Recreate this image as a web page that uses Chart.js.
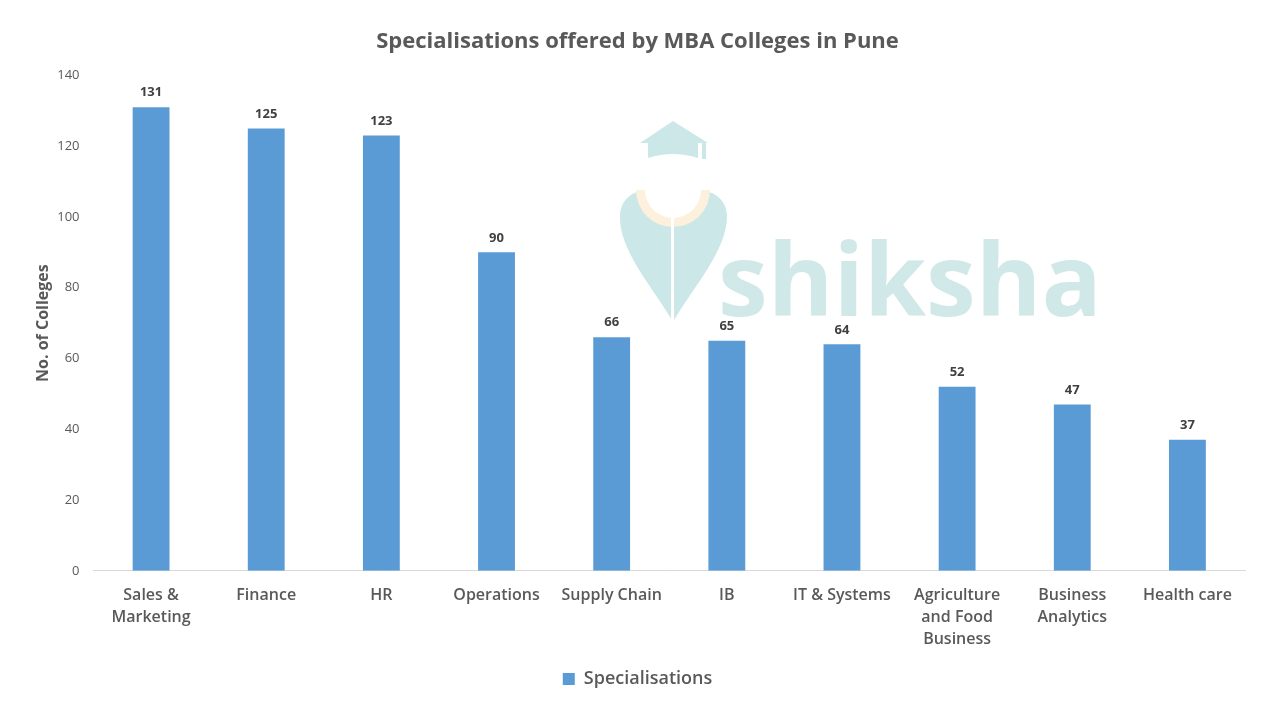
<!DOCTYPE html>
<html>
<head>
<meta charset="utf-8">
<script src="https://cdn.jsdelivr.net/npm/chart.js@4"></script>
<style>
  html, body { margin: 0; padding: 0; background: #fff; }
  #wrap { width: 1280px; height: 720px; }
</style>
</head>
<body>
<div id="wrap"><canvas id="barChart" width="1280" height="720"></canvas></div>
<script>
const categories = [
    ["Sales &", "Marketing"], "Finance", "HR", "Operations", "Supply Chain",
    "IB", "IT & Systems", ["Agriculture", "and Food", "Business"],
    ["Business", "Analytics"], "Health care"
];
const collegeCounts = [131, 125, 123, 90, 66, 65, 64, 52, 47, 37];
const yTicks = [0, 20, 40, 60, 80, 100, 120, 140];

const barColor = "#5b9bd5";
const textColor = "#595959";
const font = "'Open Sans', 'Liberation Sans', sans-serif";

// value labels above each bar
const valueLabels = {
    id: "valueLabels",
    afterDatasetsDraw(chart) {
        const ctx = chart.ctx;
        const meta = chart.getDatasetMeta(0);
        ctx.save();
        ctx.font = "bold 13px " + font;
        ctx.fillStyle = "#404040";
        ctx.textAlign = "center";
        ctx.textBaseline = "bottom";
        meta.data.forEach((bar, i) => {
            ctx.fillText(collegeCounts[i], bar.x, bar.y - 8);
        });
        ctx.restore();
    }
};

// faint site watermark behind the bars
const watermark = {
    id: "watermark",
    beforeDatasetsDraw(chart) {
        const ctx = chart.ctx;
        ctx.save();
        const teal = "rgba(190, 225, 225, 0.8)";
        // cap
        ctx.fillStyle = teal;
        ctx.beginPath();
        ctx.moveTo(640, 143); ctx.lineTo(673, 121); ctx.lineTo(708, 143);
        ctx.closePath(); ctx.fill();
        ctx.beginPath();
        ctx.moveTo(648, 143); ctx.lineTo(698, 143); ctx.lineTo(698, 158);
        ctx.quadraticCurveTo(673, 150, 648, 158);
        ctx.closePath(); ctx.fill();
        ctx.fillRect(702, 143, 4, 16);
        // shield
        ctx.beginPath();
        ctx.moveTo(673, 322);
        ctx.bezierCurveTo(655, 290, 618, 250, 620, 215);
        ctx.bezierCurveTo(621, 195, 640, 188, 650, 192);
        ctx.lineTo(696, 192);
        ctx.bezierCurveTo(706, 188, 726, 195, 727, 215);
        ctx.bezierCurveTo(728, 250, 691, 290, 673, 322);
        ctx.closePath(); ctx.fill();
        // ring
        ctx.fillStyle = "#fdf0dc";
        ctx.beginPath();
        ctx.arc(673, 190, 37, 0, Math.PI);
        ctx.closePath(); ctx.fill();
        ctx.fillStyle = "#fff";
        ctx.beginPath();
        ctx.arc(673, 190, 28, -0.05, Math.PI + 0.05);
        ctx.closePath(); ctx.fill();
        ctx.fillRect(671, 218, 3, 106);
        // wordmark
        ctx.font = "bold 100px " + font;
        ctx.fillStyle = "rgba(170, 214, 214, 0.55)";
        ctx.textAlign = "left";
        ctx.textBaseline = "alphabetic";
        ctx.fillText("shiksha", 718, 316);
        ctx.restore();
    }
};

new Chart(document.getElementById("barChart"), {
    type: "bar",
    data: {
        labels: categories,
        datasets: [{
            label: "Specialisations",
            data: collegeCounts,
            backgroundColor: barColor,
            borderWidth: 0,
            barPercentage: 0.32,
            categoryPercentage: 1.0
        }]
    },
    options: {
        responsive: false,
        animation: false,
        layout: {
            padding: { left: 30, right: 35, top: 10, bottom: 22 }
        },
        plugins: {
            title: {
                display: true,
                text: "Specialisations offered by MBA Colleges in Pune",
                color: textColor,
                font: { family: font, size: 22, weight: "bold" },
                padding: { top: 19, bottom: 20 }
            },
            legend: {
                position: "bottom",
                labels: {
                    color: textColor,
                    font: { family: font, size: 18, weight: "600" },
                    boxWidth: 12,
                    boxHeight: 12,
                    padding: 6
                }
            },
            tooltip: { enabled: false }
        },
        scales: {
            x: {
                grid: { display: false, drawTicks: false },
                border: { color: "#d9d9d9", width: 1 },
                ticks: {
                    color: textColor,
                    font: { family: font, size: 16, weight: "600", lineHeight: 1.4 },
                    maxRotation: 0,
                    autoSkip: false,
                    padding: 13
                }
            },
            y: {
                min: 0,
                max: 140,
                afterBuildTicks(axis) {
                    axis.ticks = yTicks.map(v => ({ value: v }));
                },
                grid: { display: false, drawTicks: false },
                border: { display: false },
                ticks: {
                    color: textColor,
                    font: { family: font, size: 13 },
                    padding: 14
                },
                title: {
                    display: true,
                    text: "No. of Colleges",
                    color: textColor,
                    font: { family: font, size: 16, weight: "bold" },
                    padding: { top: 4, bottom: -10 }
                }
            }
        }
    },
    plugins: [watermark, valueLabels]
});
</script>
</body>
</html>
